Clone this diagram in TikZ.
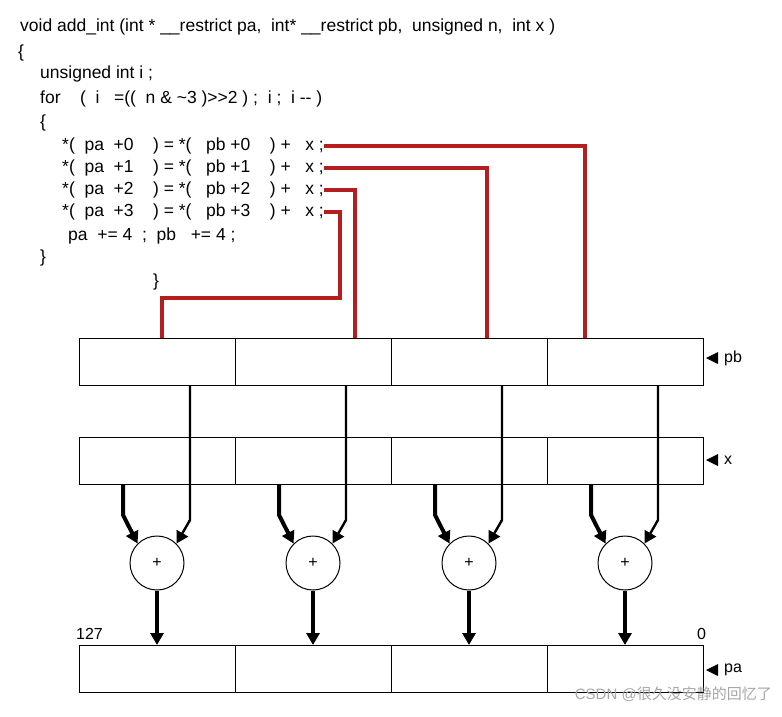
\documentclass[tikz,border=0pt]{standalone}
\usepackage{fontspec}
\setmainfont{Liberation Sans}
\newfontfamily\cjk{Noto Sans CJK SC}
\usetikzlibrary{arrows.meta}
\begin{document}
\begin{tikzpicture}[x=1pt,y=-1pt,
  code/.style={anchor=west,inner sep=0pt,font=\fontsize{17.5}{18}\selectfont},
  cell/.style={draw,line width=1.2pt,minimum width=156pt,minimum height=47pt,inner sep=0pt,anchor=north west},
  red/.style={draw={rgb,255:red,180;green,30;blue,30},line width=3.5pt},
  thin/.style={line width=2.4pt,-{Triangle[length=12pt,width=13pt]}},
  thick/.style={line width=4pt,-{Triangle[length=12pt,width=13pt]}},
  adder/.style={draw,circle,line width=1pt,minimum size=54pt,inner sep=0pt,font=\fontsize{16}{16}\selectfont},
  lbl/.style={anchor=west,inner sep=0pt,font=\fontsize{16}{16}\selectfont}]
\useasboundingbox (0,0) rectangle (782,716);
\node[code] (l0) at (20,27) {void add\_int (int * \_\_restrict pa,\ \ int* \_\_restrict pb,\ \ unsigned n,\ \ int x )};
\node[code] (l1) at (18,53) {\{};
\node[code] (l2) at (40,74) {unsigned int i ;};
\node[code] (l3) at (40,99) {for\ \ \ \ (\ \ i\ \ \ =((\ \ n \& \textasciitilde3 ){>}{>}2 ) ;\ \ i ;\ \ i -{}- )};
\node[code] (l4) at (40,123) {\{};
\node[code] (r0) at (62,146) {*(\ \ pa\ \ +0\ \ \ \ ) = *(\ \ \ pb +0\ \ \ \ ) +\ \ \ x ;};
\node[code] (r1) at (62,168) {*(\ \ pa\ \ +1\ \ \ \ ) = *(\ \ \ pb +1\ \ \ \ ) +\ \ \ x ;};
\node[code] (r2) at (62,190) {*(\ \ pa\ \ +2\ \ \ \ ) = *(\ \ \ pb +2\ \ \ \ ) +\ \ \ x ;};
\node[code] (r3) at (62,212) {*(\ \ pa\ \ +3\ \ \ \ ) = *(\ \ \ pb +3\ \ \ \ ) +\ \ \ x ;};
\node[code] (l9) at (68,236) {pa\ \ += 4\ \ ;\ \ pb\ \ \ += 4 ;};
\node[code] (l10) at (40,258) {\}};
\node[code] (l11) at (153,282) {\}};
% rows
\foreach \i in {0,1,2,3}{
  \node[cell] (b\i) at (79+156*\i,338) {};
  \node[cell] (x\i) at (79+156*\i,437) {};
  \node[cell] (a\i) at (79+156*\i,645) {};
  \node[adder] (s\i) at (157+156*\i,563) {+};
  \coordinate (p\i) at (190+156*\i,520);
  \coordinate (q\i) at (123+156*\i,515);
  \draw[thin] (b\i.south -| p\i) -- (p\i) -- (s\i.north east);
  \draw[thick] (x\i.south -| q\i) -- (q\i) -- (s\i.north west);
  \draw[thick] (s\i.south) -- (a\i.north -| s\i.south);
}
% red links
\draw[red] (r0.east) -| (b3.north -| 585,0);
\draw[red] (r1.east) -| (b2.north -| 487,0);
\draw[red] (r2.east) -| (b1.north -| 355,0);
\coordinate (k) at (340,298);
\draw[red] (r3.east) -| (k) -| (b0.north -| 162,0);
% labels
\foreach \n/\y in {pb/358,x/460,pa/670}{
  \fill (706,\y) -- (718,\y-6) -- (718,\y+6) -- cycle;
  \node[lbl] (t\n) at (724,\y) {\n};
}
\node[lbl] (n127) at (76,634) {127};
\node[lbl] (n0) at (697,634) {0};
\node[anchor=east,inner sep=0pt,text=gray!70,font=\fontsize{15}{15}\selectfont] (wm) at (772,694) {CSDN @{\cjk 很久没安静的回忆了}};
\end{tikzpicture}
\end{document}
